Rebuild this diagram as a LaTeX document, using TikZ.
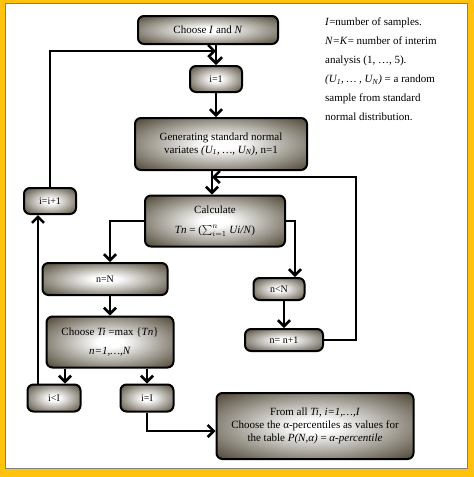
\documentclass[tikz,border=0pt]{standalone}
\usepackage{fontspec}
\setmainfont{Liberation Serif}
\usetikzlibrary{positioning,arrows.meta,calc}
\definecolor{boxdark}{RGB}{74,66,48}
\definecolor{frameyellow}{RGB}{255,194,14}
\pgfdeclareradialshading{glow}{\pgfpoint{0bp}{0bp}}{color(0bp)=(white); color(5bp)=(white); color(36bp)=(boxdark); color(50bp)=(boxdark)}

\begin{document}
\begin{tikzpicture}[
    x=1pt, y=-1pt,
    font=\fontsize{11}{13}\selectfont,
    box/.style={
        rectangle,
        draw=black,
        line width=2pt,
        rounded corners=6pt,
        shade,
        shading=glow,
        inner sep=0pt,
        align=center
    },
    small/.style={
        box,
        font=\fontsize{10}{12}\selectfont
    },
    arrow/.style={-{Straight Barb[length=6pt,width=12pt]}, line width=2.6pt}
]

% frame
\useasboundingbox (0,0) rectangle (474,477);
\fill[frameyellow] (0,0) rectangle (474,477);
\fill[white] (5,3) rectangle (467,468);
\draw[gray, line width=0.8pt] (5,3) rectangle (467,468);

\node[box, minimum width=140pt, minimum height=28pt] (A) at (208,30)
{Choose \textit{I} and \textit{N}};

\node[small, minimum width=52pt, minimum height=26pt] (B) at (216,79)
{i=1};

\node[box, minimum width=172pt, minimum height=52pt] (C) at (221,144)
{Generating standard normal\\ variates \textit{(U\textsubscript{1}, …, U\textsubscript{N}),} n=1};

\node[box, minimum width=140pt, minimum height=51pt] (D) at (215,221)
{Calculate\\[7pt] \textit{Tn} = ($\sum_{i=1}^{n}$ \textit{Ui/N})};

\node[small, minimum width=125pt, minimum height=32pt] (E) at (105,279)
{n=N};

\node[box, minimum width=127pt, minimum height=51pt] (F) at (110,342)
{Choose \textit{Ti} =max \{\textit{Tn}\}\\[6pt] \textit{n=1,…,N}};

\node[small, minimum width=51pt, minimum height=22pt] (G) at (279,289)
{n<N};

\node[small, minimum width=78pt, minimum height=22pt] (H) at (284,340)
{n= n+1};

\node[small, minimum width=52pt, minimum height=26pt] (I) at (50,201)
{i=i+1};

\node[small, minimum width=53pt, minimum height=27pt] (J) at (54,398)
{i<I};

\node[small, minimum width=53pt, minimum height=27pt] (K) at (147,398)
{i=I};

\node[box, minimum width=197pt, minimum height=66pt] (L) at (315,426)
{From all \textit{Ti, i=1,…,I}\\ Choose the α-percentiles as values for\\ the table \textit{P(N,α)} = \textit{α-percentile}};

% note
\node[anchor=north west, inner sep=0pt, align=left,
      font=\fontsize{11}{19}\selectfont] (M) at (325,18)
{\textit{I}=number of samples.\\ \textit{N=K}= number of interim\\ analysis (1, …, 5).\\
 \textit{(U\textsubscript{1}, … , U\textsubscript{N})} = a random\\ sample from standard\\ normal distribution.};

\coordinate (P) at (216,51);
\coordinate (Q) at (212,177);
\coordinate (R) at (356,177);
\coordinate (S) at ($(J.north)+(11,0)$);
\coordinate (T) at ($(J.north)+(-16,0)$);

\draw[arrow] (A.south -| P) -- (B.north);
\draw[arrow] (I.north) |- (P);
\draw[arrow] (B.south) -- (B.south |- C.north);
\draw[arrow] (C.south -| Q) -- (D.north -| Q);
\draw[arrow] (H.east) -| (R) -- (Q);
\draw[arrow] (D.west) -| (E.north -| F.north);
\draw[arrow] (E.south -| F.north) -- (F.north);
\draw[arrow] (D.east) -| ($(G.north)+(16,0)$);
\draw[arrow] (G.south -| H.north) -- (H.north);
\draw[arrow] (F.south -| S) -- (S);
\draw[arrow] (F.south -| K.north) -- (K.north);
\draw[arrow] (T) -- (T |- I.south);
\draw[arrow] (K.south) |- ([yshift=-5pt]L.west);

\end{tikzpicture}
\end{document}
